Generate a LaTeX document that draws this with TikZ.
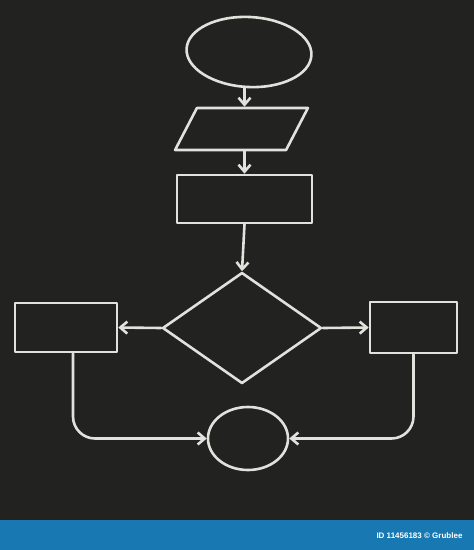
\documentclass[tikz,border=0pt]{standalone}
\usepackage{fontspec}
\setsansfont{Liberation Sans}
\usepackage{tikz}
\usetikzlibrary{positioning}
\usetikzlibrary{arrows.meta}
\usetikzlibrary{shapes.geometric}
\definecolor{board}{RGB}{34,34,33}
\definecolor{chalkwhite}{RGB}{226,226,220}
\definecolor{strip}{RGB}{24,120,178}
\tikzstyle{chalk} = [draw=chalkwhite, line width=2.6pt, line cap=round, line join=round]
\tikzstyle{box} = [chalk, inner sep=0pt]
\tikzstyle{link} = [chalk, -{Straight Barb[length=7pt,width=12pt]}]

\begin{document}
\begin{tikzpicture}[x=1pt, y=-1pt]
                    \useasboundingbox (0,0) rectangle (474,550);
                    \fill[board] (0,0) rectangle (474,520);
                    \fill[strip] (0,520) rectangle (474,550);
                    \node[anchor=east, text=white, font=\sffamily\bfseries\footnotesize] (credit) at (466,536) {ID 11456183 © Grublee};

                    % top column
                    \node[box, ellipse, minimum width=125pt, minimum height=70pt, rotate=-3] (start) at (249,52) {};
                    \node[box, rectangle, xslant=0.52, transform shape, minimum width=111pt, minimum height=42pt] (input) at (241.5,129) {};
                    \node[box, rectangle, minimum width=135pt, minimum height=48pt] (process) at (244.5,199) {};
                    \node[box, diamond, minimum width=159pt, minimum height=111pt] (decide) at (242,328) {};

                    % branches
                    \node[box, rectangle, minimum width=102pt, minimum height=49pt] (yes) at (66,327.5) {};
                    \node[box, rectangle, minimum width=87pt, minimum height=51pt] (no) at (413.5,327.5) {};
                    \node[box, ellipse, minimum width=80pt, minimum height=63pt] (join) at (248,438.5) {};

                    \draw[link] (process.north |- start.south) -- (process.north |- input.north);
                    \draw[link] (process.north |- input.south) -- (process.north);
                    \draw[link] (process.south) -- (decide.north);
                    \draw[link] (decide.west) -- (yes.east);
                    \draw[link] (decide.east) -- (no.west);
                    \draw[link, rounded corners=22pt] ([xshift=7pt]yes.south) |- (join.west);
                    \draw[link, rounded corners=22pt] (no.south) |- (join.east);
\end{tikzpicture}
\end{document}
